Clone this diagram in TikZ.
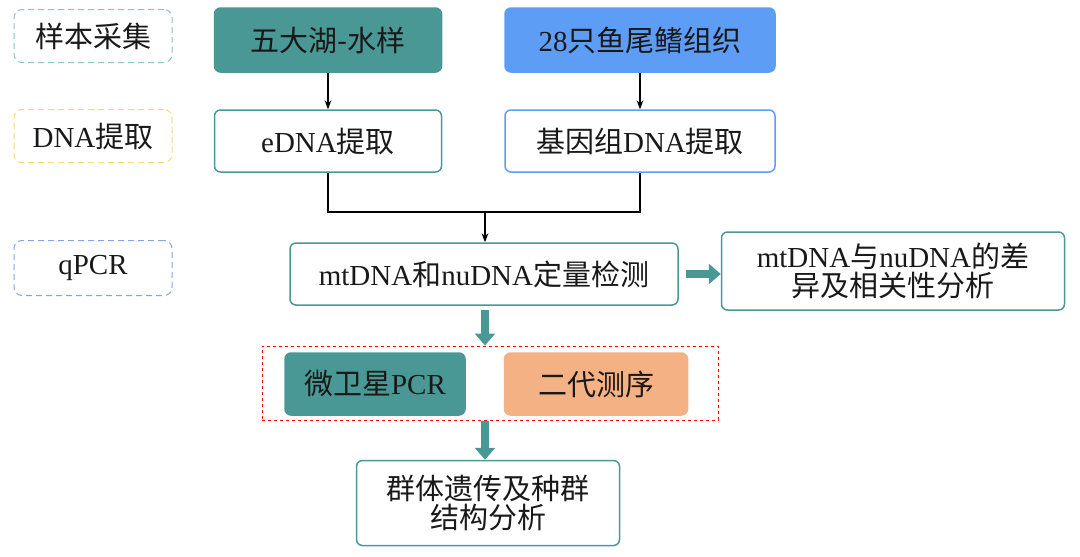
\documentclass[tikz,border=0pt]{standalone}
\usepackage{fontspec}
\setmainfont{Liberation Serif}
\newfontfamily\cjk{Noto Sans CJK SC}
\usetikzlibrary{arrows.meta}
\definecolor{teal1}{HTML}{4A9896}
\definecolor{blue1}{HTML}{5E9DF5}
\definecolor{orange1}{HTML}{F4B183}
\definecolor{dteal}{HTML}{8CC3C3}
\definecolor{dyel}{HTML}{F5DA7A}
\definecolor{dblue}{HTML}{7FA8E8}
\begin{document}
\begin{tikzpicture}[x=1pt,y=-1pt,
 txt/.style={font=\fontsize{29}{33}\selectfont,align=center},
 box/.style={txt,draw,line width=1.5pt,rounded corners=6pt,inner sep=0pt},
 lab/.style={txt,draw,dash pattern=on 6pt off 4pt,line width=1pt,rounded corners=8pt,inner sep=0pt},
 fat/.style={teal1,line width=8pt,-{Triangle[length=12pt,width=20pt]}}]
\useasboundingbox (0,0) rectangle (1080,557);
\newcommand\bx[6]{\node[#1,text=black!90,minimum width=#4pt,minimum height=#5pt] (#2) at (#3) {#6};}
\bx{lab,dteal}{l1}{93,36}{158}{53}{{\cjk 样本采集}}
\bx{lab,dyel}{l2}{93,136}{158}{53}{DNA{\cjk 提取}}
\bx{lab,dblue}{l3}{93,268}{158}{55}{qPCR}
\bx{box,teal1,fill=teal1}{a}{328,40}{227}{64}{{\cjk 五大湖-水样}}
\bx{box,blue1,fill=blue1}{b}{640,40}{270}{64}{28{\cjk 只鱼尾鳍组织}}
\bx{box,teal1}{c}{328,141}{227}{62}{eDNA{\cjk 提取}}
\bx{box,blue1}{d}{640,141}{270}{62}{{\cjk 基因组}DNA{\cjk 提取}}
\bx{box,teal1}{e}{484,274}{388}{62}{mtDNA{\cjk 和}nuDNA{\cjk 定量检测}}
\bx{box,teal1}{f}{893,271}{343}{78}{mtDNA{\cjk 与}nuDNA{\cjk 的差}\\[-4pt]{\cjk 异及相关性分析}}
\bx{box,teal1,fill=teal1}{g}{375,384}{180}{62}{{\cjk 微卫星}PCR}
\bx{box,orange1,fill=orange1}{h}{596,384}{183}{62}{{\cjk 二代测序}}
\bx{box,teal1}{i}{488,503}{263}{85}{{\cjk 群体遗传及种群}\\[-4pt]{\cjk 结构分析}}
\node[draw=red,dashed,line width=1pt,minimum width=456pt,minimum height=74pt] (r) at (490,383) {};
\draw[-{Stealth[length=9pt]},line width=1.2pt] (a) -- (c);
\draw[-{Stealth[length=9pt]},line width=1.2pt] (b) -- (d);
\coordinate (j) at (485,212);
\draw[line width=1.5pt] (c.south) |- (j) -| (d.south);
\draw[-{Stealth[length=9pt]},line width=1.2pt] (j) -- (e.north -| j);
\draw[fat] (e.east)++(7,0) -- (f.west|-e.east);
\draw[fat] (485,310) -- (r.north-|485,0);
\draw[fat] (485,421) -- (i.north-|485,0);
\end{tikzpicture}
\end{document}
